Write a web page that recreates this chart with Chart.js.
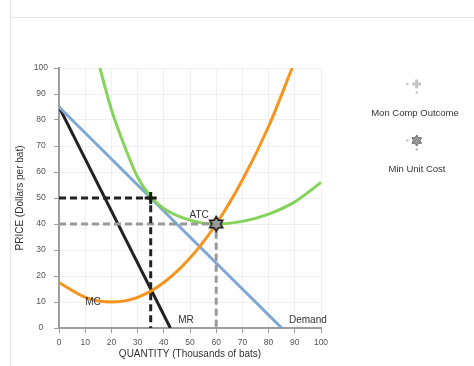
<!DOCTYPE html>
<html>
<head>
<meta charset="utf-8">
<script src="https://cdn.jsdelivr.net/npm/chart.js@4/dist/chart.umd.min.js"></script>
<style>
  html, body { margin: 0; padding: 0; background: #fff; }
  #wrap { position: relative; width: 474px; height: 366px; overflow: hidden; }
  #frameLeft { position: absolute; left: 10px; top: 0; width: 1px; height: 366px; background: #e6e6e6; }
  #frameTop { position: absolute; left: 10px; top: 17px; width: 464px; height: 1px; background: #e6e6e6; }
  canvas { position: absolute; left: 0; top: 0; }
</style>
</head>
<body>
<div id="wrap">
  <div id="frameLeft"></div>
  <div id="frameTop"></div>
  <canvas id="chart" width="474" height="366"></canvas>
</div>
<script>
// axis ticks
const qtyTicks = [0, 10, 20, 30, 40, 50, 60, 70, 80, 90, 100];
const priceTicks = [0, 10, 20, 30, 40, 50, 60, 70, 80, 90, 100];

// curves
const demandQty = [0, 85];
const demandPrice = [85, 0];
const mrQty = [0, 42.5];
const mrPrice = [85, 0];
const mcQty = [0, 10, 20, 30, 40, 50, 60, 70, 80, 89];
const mcPrice = [17.5, 11.8, 10, 11.8, 17.5, 26.9, 40, 56.9, 77.5, 100];
const atcQty = [15.6, 20, 25, 30, 35, 40, 50, 60, 70, 80, 90, 100];
const atcPrice = [100, 84, 70, 58, 50.5, 46, 41.5, 40, 41, 43.8, 48.5, 56];

// points of interest
const outcomeQty = [35];
const outcomePrice = [50];
const minCostQty = [60];
const minCostPrice = [40];

// curve labels
const curveLabels = ["ATC", "MC", "MR", "Demand"];
const labelQty = [53.5, 13, 48.5, 95];
const labelPrice = [43.5, 10, 3, 3];

function pts(xs, ys) {
  return xs.map((x, i) => ({ x: x, y: ys[i] }));
}

function drawHexagram(ctx, cx, cy, r, fill, stroke, lw) {
  ctx.save();
  ctx.fillStyle = fill;
  ctx.strokeStyle = stroke;
  ctx.lineWidth = lw;
  ctx.lineJoin = "miter";
  ctx.beginPath();
  for (let i = 0; i < 12; i++) {
    const ang = -Math.PI / 2 + i * Math.PI / 6;
    const rr = i % 2 === 0 ? r : r * 0.577;
    const px = cx + rr * Math.cos(ang);
    const py = cy + rr * Math.sin(ang);
    if (i === 0) ctx.moveTo(px, py); else ctx.lineTo(px, py);
  }
  ctx.closePath();
  ctx.fill();
  ctx.stroke();
  ctx.restore();
}

// star marker image used as point style
const starImg = document.createElement("canvas");
starImg.width = 18;
starImg.height = 18;
drawHexagram(starImg.getContext("2d"), 9, 9, 7.5, "#9a9a9a", "#1a1a1a", 1.6);

const labelsPlugin = {
  id: "curveLabels",
  afterDatasetsDraw(chart) {
    const { ctx, scales } = chart;
    ctx.save();
    ctx.font = "10px 'Liberation Sans', Arial, sans-serif";
    ctx.fillStyle = "#333";
    ctx.textAlign = "center";
    ctx.textBaseline = "middle";
    curveLabels.forEach((t, i) => {
      ctx.fillText(t, scales.x.getPixelForValue(labelQty[i]), scales.y.getPixelForValue(labelPrice[i]));
    });
    ctx.restore();
  },
  afterDraw(chart) {
    // legend on the right
    const ctx = chart.ctx;
    ctx.save();
    // plus icon
    ctx.strokeStyle = "#c4c4c4";
    ctx.lineWidth = 3;
    ctx.beginPath();
    ctx.moveTo(412.5, 84); ctx.lineTo(421, 84);
    ctx.moveTo(416.7, 79.5); ctx.lineTo(416.7, 88.5);
    ctx.stroke();
    ctx.fillStyle = "#b8b8b8";
    ctx.fillRect(406.5, 83, 2, 2);
    ctx.fillRect(415.7, 91.5, 2, 2);
    // star icon
    drawHexagram(ctx, 416.7, 140.5, 5.5, "#9a9a9a", "#6a6a6a", 1);
    ctx.fillStyle = "#b0b0b0";
    ctx.fillRect(406.5, 139.5, 2, 2);
    ctx.fillRect(415.7, 148.5, 2, 2);
    // texts
    ctx.font = "9.5px 'Liberation Sans', Arial, sans-serif";
    ctx.fillStyle = "#333";
    ctx.textAlign = "center";
    ctx.textBaseline = "middle";
    ctx.fillText("Mon Comp Outcome", 415, 113);
    ctx.fillText("Min Unit Cost", 417, 169.5);
    ctx.restore();
  }
};

const gridColor = "#efefef";
const axisColor = "#9e9e9e";

new Chart(document.getElementById("chart"), {
  type: "scatter",
  data: {
    datasets: [
      {
        label: "Min Unit Cost",
        data: pts(minCostQty, minCostPrice),
        pointStyle: starImg,
        pointRadius: 9,
        showLine: false
      },
      {
        label: "Mon Comp Outcome",
        data: pts(outcomeQty, outcomePrice),
        pointStyle: "cross",
        pointRadius: 6,
        borderColor: "#1a1a1a",
        borderWidth: 3,
        showLine: false
      },
      {
        label: "monopolistic competition",
        data: pts([0, outcomeQty[0], outcomeQty[0]], [outcomePrice[0], outcomePrice[0], 0]),
        showLine: true,
        borderColor: "#222",
        borderWidth: 3,
        borderDash: [7, 4],
        pointRadius: 0
      },
      {
        label: "minimum unit cost",
        data: pts([0, minCostQty[0], minCostQty[0]], [minCostPrice[0], minCostPrice[0], 0]),
        showLine: true,
        borderColor: "#9a9a9a",
        borderWidth: 3,
        borderDash: [7, 4],
        pointRadius: 0
      },
      {
        label: "MC",
        data: pts(mcQty, mcPrice),
        showLine: true,
        borderColor: "#f7941d",
        borderWidth: 3,
        pointRadius: 0,
        cubicInterpolationMode: "monotone"
      },
      {
        label: "ATC",
        data: pts(atcQty, atcPrice),
        showLine: true,
        borderColor: "#84d35b",
        borderWidth: 3,
        pointRadius: 0,
        cubicInterpolationMode: "monotone"
      },
      {
        label: "Demand",
        data: pts(demandQty, demandPrice),
        showLine: true,
        borderColor: "#7ea7d6",
        borderWidth: 3,
        pointRadius: 0
      },
      {
        label: "MR",
        data: pts(mrQty, mrPrice),
        showLine: true,
        borderColor: "#222",
        borderWidth: 3,
        pointRadius: 0
      }
    ]
  },
  options: {
    responsive: false,
    animation: false,
    layout: { padding: { left: 0, top: 68, right: 153, bottom: 0 } },
    plugins: {
      legend: { display: false },
      tooltip: { enabled: false }
    },
    scales: {
      x: {
        type: "linear",
        min: 0,
        max: 100,
        afterFit: (s) => { s.height = 38; },
        afterBuildTicks: (s) => { s.ticks = qtyTicks.map((v) => ({ value: v })); },
        grid: { color: gridColor, tickColor: axisColor, tickLength: 5 },
        border: { color: axisColor, width: 2 },
        ticks: {
          padding: 5,
          color: "#555",
          font: { size: 8.5, family: "'Liberation Sans', Arial, sans-serif" }
        },
        title: {
          display: true,
          text: "QUANTITY (Thousands of bats)",
          color: "#333",
          padding: { top: 0, bottom: 6 },
          font: { size: 10, family: "'Liberation Sans', Arial, sans-serif" }
        }
      },
      y: {
        type: "linear",
        min: 0,
        max: 100,
        afterFit: (s) => { s.width = 59; },
        afterBuildTicks: (s) => { s.ticks = priceTicks.map((v) => ({ value: v })); },
        grid: { color: gridColor, tickColor: axisColor, tickLength: 5 },
        border: { color: axisColor, width: 2 },
        ticks: {
          padding: 6,
          crossAlign: "center",
          color: "#555",
          font: { size: 8.5, family: "'Liberation Sans', Arial, sans-serif" }
        },
        title: {
          display: true,
          text: "PRICE (Dollars per bat)",
          color: "#333",
          padding: { top: 14, bottom: 0 },
          font: { size: 10, family: "'Liberation Sans', Arial, sans-serif" }
        }
      }
    }
  },
  plugins: [labelsPlugin]
});
</script>
</body>
</html>
